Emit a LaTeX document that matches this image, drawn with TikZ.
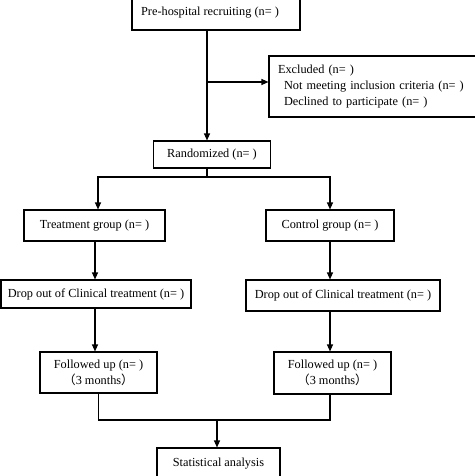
\documentclass[tikz,border=0pt]{standalone}
\usepackage{fontspec}
\setmainfont{Liberation Serif}
\newfontfamily\cjk{Noto Sans CJK SC}
\usetikzlibrary{arrows.meta,positioning,calc}

\begin{document}
\begin{tikzpicture}[
    x=1pt, y=-1pt,
    box/.style={draw, line width=1.1pt, inner sep=0pt, align=center,
                font=\fontsize{12.3}{16}\selectfont},
    arrow/.style={-{Triangle[length=7pt,width=6pt]}, line width=1.1pt},
    line/.style={line width=1.1pt}
]
\useasboundingbox (0,0) rectangle (474,476);

% Nodes
\node[box, minimum width=168pt, minimum height=34pt] (pre) at (216, 13) {Pre-hospital recruiting (n= )\hspace*{12pt}};
\node[box, minimum width=211pt, minimum height=61pt, align=left, text width=193pt] (excl) at (374.5, 86.5)
    {Excluded (n= )\\ \hspace*{6pt}Not meeting inclusion criteria (n= )\\ \hspace*{6pt}Declined to participate (n= )};
\node[box, minimum width=117pt, minimum height=27pt] (rand) at (212, 154.5) {Randomized (n= )};
\node[box, minimum width=141pt, minimum height=31pt] (treat) at (94.5, 225.5) {Treatment group (n= )};
\node[box, minimum width=128pt, minimum height=31pt] (ctrl) at (330, 225.5) {Control group (n= )};
\node[box, minimum width=190pt, minimum height=28pt] (dropL) at (96, 294) {Drop out of Clinical treatment (n= )};
\node[box, minimum width=194pt, minimum height=31pt] (dropR) at (343, 295.5) {Drop out of Clinical treatment (n= )};
\node[box, minimum width=117pt, minimum height=41pt] (folL) at (98.5, 372.5) {Followed up (n= )\\ {\cjk （}3 months{\cjk ）}};
\node[box, minimum width=117pt, minimum height=42pt] (folR) at (332.5, 373) {Followed up (n= )\\ {\cjk （}3 months{\cjk ）}};
\node[box, minimum width=123pt, minimum height=32pt] (stat) at (218.5, 464) {Statistical analysis};

% Helper points
\coordinate (spine) at (207, 82);
\coordinate (split) at (207, 177);
\coordinate (join) at (217, 420);

% Arrows
\draw[arrow] (pre.south -| spine) -- (rand.north -| spine);
\draw[arrow] (spine) -- (excl.west |- spine);
\draw[line] (rand.south -| split) -- (split);
\draw[arrow] (split) -| ($(treat.north)+(3.5,0)$);
\draw[arrow] (split) -| (ctrl.north);
\draw[arrow] ($(treat.south)+(0.5,0)$) -- ($(dropL.north)+(-1,0)$);
\draw[arrow] (ctrl.south) -- (dropR.north -| ctrl);
\draw[arrow] ($(dropL.south)+(-1,0)$) -- ($(folL.north)+(-3.5,0)$);
\draw[arrow] (dropR.south -| ctrl) -- (folR.north -| ctrl);
\draw[line] (folL.south) |- (join);
\draw[line] (folR.south -| ctrl) |- (join);
\draw[arrow] (join) -- (stat.north -| join);

\end{tikzpicture}
\end{document}
